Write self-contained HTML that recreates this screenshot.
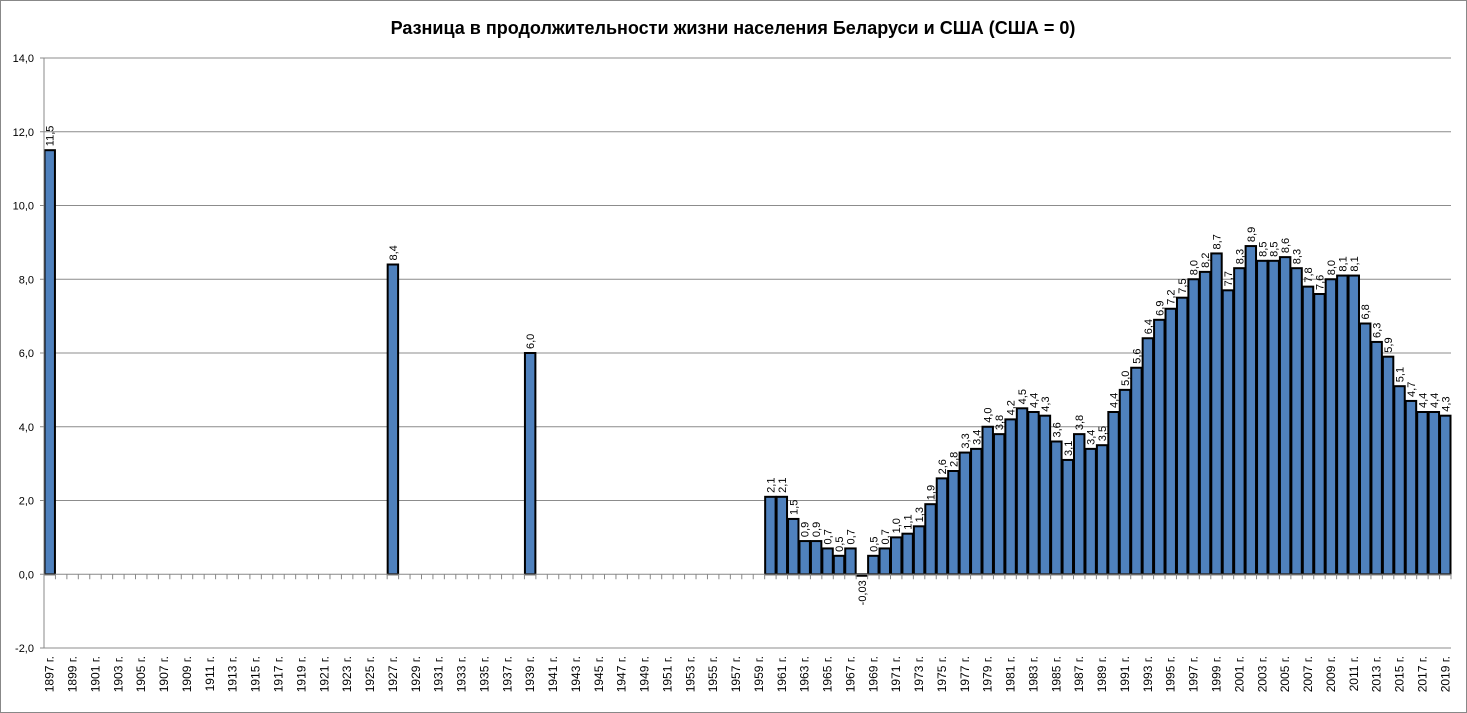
<!DOCTYPE html>
<html><head><meta charset="utf-8"><style>
body{margin:0;background:#fff;}
svg{font-family:"Liberation Sans","DejaVu Sans",sans-serif;display:block}
</style></head><body>
<svg id="chart" width="1467" height="713">
<rect x="0.5" y="0.5" width="1466" height="712" fill="#fff" stroke="#888"/>
<text x="733" y="34" text-anchor="middle" font-size="18" font-weight="bold">Разница в продолжительности жизни населения Беларуси и США (США = 0)</text>
<g id="grid"></g><g id="bars"></g><g id="labels"></g><g id="axes"></g>
</svg>
<script>
const years = [];
for (let y = 1897; y <= 2019; y++) years.push(y);
const knownYears = [1897,1927,1939,1960,1961,1962,1963,1964,1965,1966,1967,1968,1969,1970,1971,1972,1973,1974,1975,1976,1977,1978,1979,1980,1981,1982,1983,1984,1985,1986,1987,1988,1989,1990,1991,1992,1993,1994,1995,1996,1997,1998,1999,2000,2001,2002,2003,2004,2005,2006,2007,2008,2009,2010,2011,2012,2013,2014,2015,2016,2017,2018,2019];
const knownValues = [11.5,8.4,6.0,2.1,2.1,1.5,0.9,0.9,0.7,0.5,0.7,-0.03,0.5,0.7,1.0,1.1,1.3,1.9,2.6,2.8,3.3,3.4,4.0,3.8,4.2,4.5,4.4,4.3,3.6,3.1,3.8,3.4,3.5,4.4,5.0,5.6,6.4,6.9,7.2,7.5,8.0,8.2,8.7,7.7,8.3,8.9,8.5,8.5,8.6,8.3,7.8,7.6,8.0,8.1,8.1,6.8,6.3,5.9,5.1,4.7,4.4,4.4,4.3];
const yTicks = [-2,0,2,4,6,8,10,12,14];

const NS="http://www.w3.org/2000/svg";
const L=44,R=1451,T=58,B=648,yMin=-2,yMax=14;
const bw=(R-L)/years.length;
const xs=i=>L+i*bw;
const ys=v=>B-(v-yMin)/(yMax-yMin)*(B-T);
function mk(tag,attrs,parent){const e=document.createElementNS(NS,tag);for(const k in attrs)e.setAttribute(k,attrs[k]);parent.appendChild(e);return e;}
const grid=document.getElementById('grid'),bars=document.getElementById('bars'),labels=document.getElementById('labels'),axes=document.getElementById('axes');
yTicks.forEach(t=>{
  const y=ys(t);
  if(t!==0){const g=mk('line',{x1:L,x2:R,y1:y,y2:y,stroke:'#8c8c8c','stroke-width':1},grid);
  
  }
  const tx=mk('text',{x:L-10,y:y+4,'text-anchor':'end','font-size':11},axes);
  tx.textContent=t.toFixed(1).replace('.',',');
  
  
  const tk=mk('line',{x1:L-4,x2:L,y1:y,y2:y,stroke:'#888'},axes);
  
  
});
const ya=mk('line',{x1:L,x2:L,y1:T,y2:B,stroke:'#888'},axes);


const xa=mk('line',{x1:L,x2:R,y1:ys(0),y2:ys(0),stroke:'#888'},axes);


years.forEach((yr,i)=>{
  const tk=mk('line',{x1:xs(i+1),x2:xs(i+1),y1:ys(0),y2:ys(0)+5,stroke:'#888'},axes);
  
  
  if(i%2===0){
    const cx=xs(i)+bw/2+4, cy=B+8;
    const tx=mk('text',{x:cx,y:cy,'text-anchor':'end','font-size':12,transform:`rotate(-90 ${cx} ${cy})`},axes);
    tx.textContent=yr+' г.';
    
    
  }
});
knownYears.forEach((yr,k)=>{
  const i=years.indexOf(yr), v=knownValues[k];
  const y0=ys(0), y1=ys(v);
  const r=mk('rect',{x:xs(i)+0.5,y:Math.min(y0,y1),width:bw-1,height:Math.max(Math.abs(y0-y1),1.5),fill:'#4f81bd',stroke:'#000','stroke-width':2},bars);
  
  
  const cx=xs(i)+bw/2+4;
  const txt=(Math.abs(v)<0.1?v.toFixed(2):v.toFixed(1)).replace('.',',');
  let cy,anchor;
  if(v>=0){cy=y1-4;anchor='start';}else{cy=y0+6;anchor='end';}
  const t=mk('text',{x:cx,y:cy,'text-anchor':anchor,'font-size':11,transform:`rotate(-90 ${cx} ${cy})`},labels);
  t.textContent=txt;
  
  
});
</script>
</body></html>
